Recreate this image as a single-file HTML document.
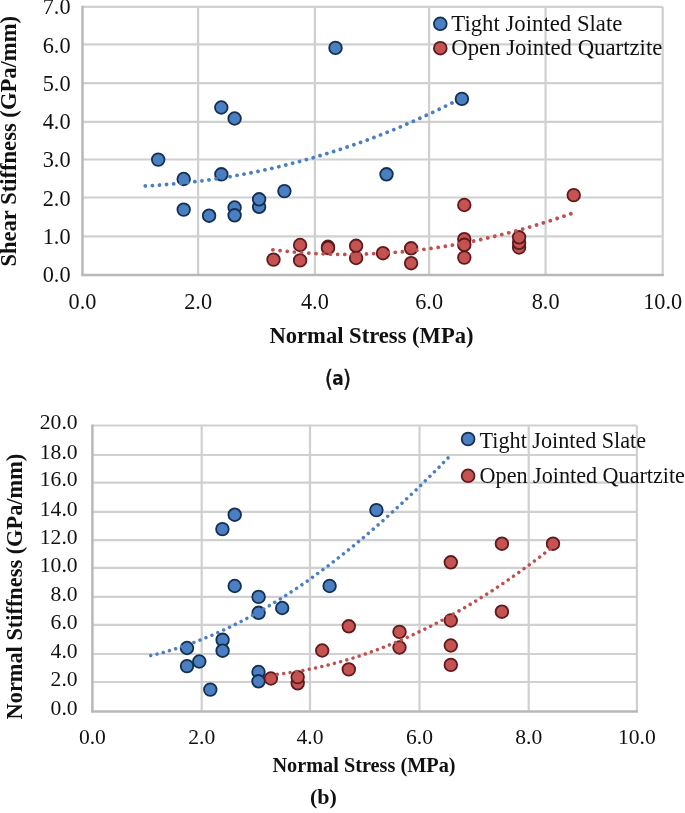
<!DOCTYPE html>
<html><head><meta charset="utf-8"><title>Stiffness vs Normal Stress</title>
<style>html,body{margin:0;padding:0;background:#fff;}svg{display:block;filter:blur(0.45px);}</style>
</head><body>
<svg width="685" height="813" viewBox="0 0 685 813">
<rect width="685" height="813" fill="#fff"/>
<line x1="198.1" y1="6.9" x2="198.1" y2="274.8" stroke="#d0d0d0" stroke-width="2.2"/>
<line x1="314.9" y1="6.9" x2="314.9" y2="274.8" stroke="#d0d0d0" stroke-width="2.2"/>
<line x1="429.1" y1="6.9" x2="429.1" y2="274.8" stroke="#d0d0d0" stroke-width="2.2"/>
<line x1="545.6" y1="6.9" x2="545.6" y2="274.8" stroke="#d0d0d0" stroke-width="2.2"/>
<line x1="662.7" y1="6.9" x2="662.7" y2="274.8" stroke="#d0d0d0" stroke-width="2.2"/>
<line x1="82.5" y1="236.3" x2="662.7" y2="236.3" stroke="#d0d0d0" stroke-width="2.2"/>
<line x1="82.5" y1="197.5" x2="662.7" y2="197.5" stroke="#d0d0d0" stroke-width="2.2"/>
<line x1="82.5" y1="159.5" x2="662.7" y2="159.5" stroke="#d0d0d0" stroke-width="2.2"/>
<line x1="82.5" y1="121.9" x2="662.7" y2="121.9" stroke="#d0d0d0" stroke-width="2.2"/>
<line x1="82.5" y1="83.2" x2="662.7" y2="83.2" stroke="#d0d0d0" stroke-width="2.2"/>
<line x1="82.5" y1="44.3" x2="662.7" y2="44.3" stroke="#d0d0d0" stroke-width="2.2"/>
<line x1="82.5" y1="6.9" x2="662.7" y2="6.9" stroke="#d0d0d0" stroke-width="2.2"/>
<line x1="82.5" y1="5.8" x2="82.5" y2="275.9" stroke="#b6b8ba" stroke-width="2.5"/>
<line x1="81.4" y1="275.0" x2="663.8" y2="275.0" stroke="#b6b8ba" stroke-width="2.5"/>
<circle cx="158.2" cy="159.6" r="6.3" fill="#4a7fc1" stroke="#132f52" stroke-width="1.8"/>
<circle cx="183.7" cy="179.0" r="6.3" fill="#4a7fc1" stroke="#132f52" stroke-width="1.8"/>
<circle cx="183.7" cy="209.6" r="6.3" fill="#4a7fc1" stroke="#132f52" stroke-width="1.8"/>
<circle cx="209.1" cy="215.7" r="6.3" fill="#4a7fc1" stroke="#132f52" stroke-width="1.8"/>
<circle cx="221.3" cy="107.5" r="6.3" fill="#4a7fc1" stroke="#132f52" stroke-width="1.8"/>
<circle cx="221.35" cy="174.3" r="6.3" fill="#4a7fc1" stroke="#132f52" stroke-width="1.8"/>
<circle cx="234.6" cy="118.5" r="6.3" fill="#4a7fc1" stroke="#132f52" stroke-width="1.8"/>
<circle cx="234.6" cy="207.5" r="6.3" fill="#4a7fc1" stroke="#132f52" stroke-width="1.8"/>
<circle cx="234.6" cy="215.3" r="6.3" fill="#4a7fc1" stroke="#132f52" stroke-width="1.8"/>
<circle cx="259.1" cy="206.8" r="6.3" fill="#4a7fc1" stroke="#132f52" stroke-width="1.8"/>
<circle cx="259.1" cy="199.3" r="6.3" fill="#4a7fc1" stroke="#132f52" stroke-width="1.8"/>
<circle cx="284.4" cy="191.1" r="6.3" fill="#4a7fc1" stroke="#132f52" stroke-width="1.8"/>
<circle cx="335.5" cy="47.9" r="6.3" fill="#4a7fc1" stroke="#132f52" stroke-width="1.8"/>
<circle cx="386.5" cy="174.3" r="6.3" fill="#4a7fc1" stroke="#132f52" stroke-width="1.8"/>
<circle cx="461.9" cy="98.9" r="6.3" fill="#4a7fc1" stroke="#132f52" stroke-width="1.8"/>
<circle cx="273.5" cy="259.6" r="6.3" fill="#c55352" stroke="#5e1a1d" stroke-width="1.8"/>
<circle cx="300.1" cy="245.0" r="6.3" fill="#c55352" stroke="#5e1a1d" stroke-width="1.8"/>
<circle cx="300.1" cy="260.4" r="6.3" fill="#c55352" stroke="#5e1a1d" stroke-width="1.8"/>
<circle cx="328.0" cy="246.8" r="6.3" fill="#c55352" stroke="#5e1a1d" stroke-width="1.8"/>
<circle cx="328.0" cy="248.0" r="6.3" fill="#c55352" stroke="#5e1a1d" stroke-width="1.8"/>
<circle cx="356.1" cy="245.8" r="6.3" fill="#c55352" stroke="#5e1a1d" stroke-width="1.8"/>
<circle cx="356.1" cy="258.0" r="6.3" fill="#c55352" stroke="#5e1a1d" stroke-width="1.8"/>
<circle cx="383.0" cy="253.2" r="6.3" fill="#c55352" stroke="#5e1a1d" stroke-width="1.8"/>
<circle cx="411.1" cy="248.3" r="6.3" fill="#c55352" stroke="#5e1a1d" stroke-width="1.8"/>
<circle cx="411.1" cy="263.2" r="6.3" fill="#c55352" stroke="#5e1a1d" stroke-width="1.8"/>
<circle cx="464.3" cy="205.0" r="6.3" fill="#c55352" stroke="#5e1a1d" stroke-width="1.8"/>
<circle cx="464.3" cy="239.2" r="6.3" fill="#c55352" stroke="#5e1a1d" stroke-width="1.8"/>
<circle cx="464.3" cy="244.8" r="6.3" fill="#c55352" stroke="#5e1a1d" stroke-width="1.8"/>
<circle cx="464.3" cy="257.6" r="6.3" fill="#c55352" stroke="#5e1a1d" stroke-width="1.8"/>
<circle cx="519.1" cy="247.5" r="6.3" fill="#c55352" stroke="#5e1a1d" stroke-width="1.8"/>
<circle cx="519.1" cy="242.8" r="6.3" fill="#c55352" stroke="#5e1a1d" stroke-width="1.8"/>
<circle cx="519.1" cy="237.3" r="6.3" fill="#c55352" stroke="#5e1a1d" stroke-width="1.8"/>
<circle cx="573.7" cy="195.1" r="6.3" fill="#c55352" stroke="#5e1a1d" stroke-width="1.8"/>
<path d="M145.3,186.0 L150.6,185.7 L155.9,185.3 L161.1,184.9 L166.4,184.5 L171.7,184.1 L177.0,183.6 L182.3,183.1 L187.6,182.5 L192.8,181.9 L198.1,181.3 L203.4,180.6 L208.7,179.9 L214.0,179.1 L219.3,178.3 L224.5,177.5 L229.8,176.6 L235.1,175.7 L240.4,174.8 L245.7,173.8 L251.0,172.8 L256.2,171.7 L261.5,170.6 L266.8,169.5 L272.1,168.3 L277.4,167.1 L282.7,165.8 L287.9,164.5 L293.2,163.1 L298.5,161.8 L303.8,160.3 L309.1,158.9 L314.4,157.4 L319.6,155.8 L324.9,154.2 L330.2,152.6 L335.5,150.9 L340.8,149.2 L346.1,147.4 L351.3,145.6 L356.6,143.8 L361.9,141.9 L367.2,140.0 L372.5,138.0 L377.8,136.0 L383.0,133.9 L388.3,131.8 L393.6,129.7 L398.9,127.5 L404.2,125.2 L409.5,122.9 L414.7,120.6 L420.0,118.2 L425.3,115.8 L430.6,113.4 L435.9,110.9 L441.2,108.3 L446.4,105.7 L451.7,103.1 L457.0,100.4" fill="none" stroke="#4a7fc1" stroke-width="3.8" stroke-linecap="round" stroke-dasharray="0.01 7.1"/>
<path d="M272.9,249.8 L278.0,250.4 L283.0,251.0 L288.1,251.5 L293.1,252.0 L298.2,252.4 L303.3,252.8 L308.3,253.1 L313.4,253.5 L318.4,253.7 L323.5,253.9 L328.6,254.1 L333.6,254.2 L338.7,254.3 L343.8,254.4 L348.8,254.4 L353.9,254.3 L358.9,254.2 L364.0,254.1 L369.1,253.9 L374.1,253.7 L379.2,253.5 L384.2,253.2 L389.3,252.8 L394.4,252.4 L399.4,252.0 L404.5,251.6 L409.5,251.0 L414.6,250.5 L419.7,249.9 L424.7,249.3 L429.8,248.6 L434.9,247.9 L439.9,247.1 L445.0,246.3 L450.0,245.5 L455.1,244.6 L460.2,243.7 L465.2,242.7 L470.3,241.7 L475.3,240.7 L480.4,239.6 L485.5,238.5 L490.5,237.3 L495.6,236.1 L500.6,234.9 L505.7,233.6 L510.8,232.3 L515.8,231.0 L520.9,229.6 L526.0,228.1 L531.0,226.7 L536.1,225.1 L541.1,223.6 L546.2,222.0 L551.3,220.4 L556.3,218.7 L561.4,217.0 L566.4,215.3 L571.5,213.5" fill="none" stroke="#c0504d" stroke-width="3.8" stroke-linecap="round" stroke-dasharray="0.01 7.2"/>
<line x1="201.7" y1="425.5" x2="201.7" y2="711.2" stroke="#d0d0d0" stroke-width="2.2"/>
<line x1="310.0" y1="425.5" x2="310.0" y2="711.2" stroke="#d0d0d0" stroke-width="2.2"/>
<line x1="419.5" y1="425.5" x2="419.5" y2="711.2" stroke="#d0d0d0" stroke-width="2.2"/>
<line x1="528.7" y1="425.5" x2="528.7" y2="711.2" stroke="#d0d0d0" stroke-width="2.2"/>
<line x1="636.9" y1="425.5" x2="636.9" y2="711.2" stroke="#d0d0d0" stroke-width="2.2"/>
<line x1="92.4" y1="682.0" x2="636.9" y2="682.0" stroke="#d0d0d0" stroke-width="2.2"/>
<line x1="92.4" y1="654.0" x2="636.9" y2="654.0" stroke="#d0d0d0" stroke-width="2.2"/>
<line x1="92.4" y1="624.8" x2="636.9" y2="624.8" stroke="#d0d0d0" stroke-width="2.2"/>
<line x1="92.4" y1="596.8" x2="636.9" y2="596.8" stroke="#d0d0d0" stroke-width="2.2"/>
<line x1="92.4" y1="567.8" x2="636.9" y2="567.8" stroke="#d0d0d0" stroke-width="2.2"/>
<line x1="92.4" y1="540.1" x2="636.9" y2="540.1" stroke="#d0d0d0" stroke-width="2.2"/>
<line x1="92.4" y1="511.9" x2="636.9" y2="511.9" stroke="#d0d0d0" stroke-width="2.2"/>
<line x1="92.4" y1="482.7" x2="636.9" y2="482.7" stroke="#d0d0d0" stroke-width="2.2"/>
<line x1="92.4" y1="455.0" x2="636.9" y2="455.0" stroke="#d0d0d0" stroke-width="2.2"/>
<line x1="92.4" y1="425.5" x2="636.9" y2="425.5" stroke="#d0d0d0" stroke-width="2.2"/>
<line x1="92.4" y1="424.4" x2="92.4" y2="712.3" stroke="#b6b8ba" stroke-width="2.5"/>
<line x1="91.3" y1="711.4" x2="638.0" y2="711.4" stroke="#b6b8ba" stroke-width="2.5"/>
<circle cx="234.7" cy="514.7" r="6.3" fill="#4a7fc1" stroke="#132f52" stroke-width="1.8"/>
<circle cx="222.4" cy="529.1" r="6.3" fill="#4a7fc1" stroke="#132f52" stroke-width="1.8"/>
<circle cx="234.7" cy="586.0" r="6.3" fill="#4a7fc1" stroke="#132f52" stroke-width="1.8"/>
<circle cx="258.6" cy="596.9" r="6.3" fill="#4a7fc1" stroke="#132f52" stroke-width="1.8"/>
<circle cx="258.6" cy="612.8" r="6.3" fill="#4a7fc1" stroke="#132f52" stroke-width="1.8"/>
<circle cx="282.2" cy="608.0" r="6.3" fill="#4a7fc1" stroke="#132f52" stroke-width="1.8"/>
<circle cx="222.6" cy="639.8" r="6.3" fill="#4a7fc1" stroke="#132f52" stroke-width="1.8"/>
<circle cx="222.6" cy="650.7" r="6.3" fill="#4a7fc1" stroke="#132f52" stroke-width="1.8"/>
<circle cx="187.0" cy="648.0" r="6.3" fill="#4a7fc1" stroke="#132f52" stroke-width="1.8"/>
<circle cx="187.0" cy="666.1" r="6.3" fill="#4a7fc1" stroke="#132f52" stroke-width="1.8"/>
<circle cx="199.3" cy="661.5" r="6.3" fill="#4a7fc1" stroke="#132f52" stroke-width="1.8"/>
<circle cx="258.5" cy="672.0" r="6.3" fill="#4a7fc1" stroke="#132f52" stroke-width="1.8"/>
<circle cx="258.5" cy="681.3" r="6.3" fill="#4a7fc1" stroke="#132f52" stroke-width="1.8"/>
<circle cx="210.3" cy="689.6" r="6.3" fill="#4a7fc1" stroke="#132f52" stroke-width="1.8"/>
<circle cx="329.6" cy="586.0" r="6.3" fill="#4a7fc1" stroke="#132f52" stroke-width="1.8"/>
<circle cx="376.4" cy="510.1" r="6.3" fill="#4a7fc1" stroke="#132f52" stroke-width="1.8"/>
<circle cx="270.9" cy="678.5" r="6.3" fill="#c55352" stroke="#5e1a1d" stroke-width="1.8"/>
<circle cx="297.7" cy="683.3" r="6.3" fill="#c55352" stroke="#5e1a1d" stroke-width="1.8"/>
<circle cx="297.7" cy="677.1" r="6.3" fill="#c55352" stroke="#5e1a1d" stroke-width="1.8"/>
<circle cx="322.2" cy="650.5" r="6.3" fill="#c55352" stroke="#5e1a1d" stroke-width="1.8"/>
<circle cx="348.8" cy="669.4" r="6.3" fill="#c55352" stroke="#5e1a1d" stroke-width="1.8"/>
<circle cx="348.8" cy="626.3" r="6.3" fill="#c55352" stroke="#5e1a1d" stroke-width="1.8"/>
<circle cx="399.5" cy="631.9" r="6.3" fill="#c55352" stroke="#5e1a1d" stroke-width="1.8"/>
<circle cx="399.5" cy="647.5" r="6.3" fill="#c55352" stroke="#5e1a1d" stroke-width="1.8"/>
<circle cx="450.8" cy="562.3" r="6.3" fill="#c55352" stroke="#5e1a1d" stroke-width="1.8"/>
<circle cx="450.8" cy="620.5" r="6.3" fill="#c55352" stroke="#5e1a1d" stroke-width="1.8"/>
<circle cx="450.8" cy="645.5" r="6.3" fill="#c55352" stroke="#5e1a1d" stroke-width="1.8"/>
<circle cx="450.8" cy="664.9" r="6.3" fill="#c55352" stroke="#5e1a1d" stroke-width="1.8"/>
<circle cx="501.9" cy="543.7" r="6.3" fill="#c55352" stroke="#5e1a1d" stroke-width="1.8"/>
<circle cx="501.9" cy="611.7" r="6.3" fill="#c55352" stroke="#5e1a1d" stroke-width="1.8"/>
<circle cx="553.0" cy="543.7" r="6.3" fill="#c55352" stroke="#5e1a1d" stroke-width="1.8"/>
<path d="M150.7,655.6 L155.8,654.4 L160.8,653.1 L165.9,651.7 L171.0,650.2 L176.1,648.6 L181.1,647.0 L186.2,645.3 L191.3,643.5 L196.4,641.6 L201.4,639.6 L206.5,637.5 L211.6,635.4 L216.6,633.2 L221.7,630.9 L226.8,628.5 L231.9,626.1 L236.9,623.6 L242.0,621.0 L247.1,618.3 L252.2,615.5 L257.2,612.7 L262.3,609.8 L267.4,606.9 L272.4,603.8 L277.5,600.7 L282.6,597.5 L287.7,594.2 L292.7,590.9 L297.8,587.5 L302.9,584.0 L308.0,580.5 L313.0,576.9 L318.1,573.2 L323.2,569.5 L328.3,565.7 L333.3,561.8 L338.4,557.9 L343.5,553.9 L348.5,549.8 L353.6,545.7 L358.7,541.5 L363.8,537.2 L368.8,532.9 L373.9,528.5 L379.0,524.1 L384.1,519.6 L389.1,515.0 L394.2,510.4 L399.3,505.7 L404.3,501.0 L409.4,496.2 L414.5,491.4 L419.6,486.5 L424.6,481.5 L429.7,476.5 L434.8,471.4 L439.9,466.3 L444.9,461.1 L450.0,455.9" fill="none" stroke="#4a7fc1" stroke-width="3.5" stroke-linecap="round" stroke-dasharray="0.01 6.45"/>
<path d="M270.9,675.0 L275.7,674.5 L280.4,674.0 L285.2,673.3 L290.0,672.6 L294.7,671.9 L299.5,671.1 L304.3,670.2 L309.0,669.3 L313.8,668.3 L318.5,667.3 L323.3,666.2 L328.1,665.0 L332.8,663.8 L337.6,662.5 L342.4,661.2 L347.1,659.8 L351.9,658.4 L356.7,656.9 L361.4,655.3 L366.2,653.7 L371.0,652.0 L375.7,650.3 L380.5,648.5 L385.2,646.6 L390.0,644.7 L394.8,642.8 L399.5,640.8 L404.3,638.7 L409.1,636.6 L413.8,634.4 L418.6,632.1 L423.4,629.8 L428.1,627.5 L432.9,625.1 L437.7,622.6 L442.4,620.1 L447.2,617.5 L451.9,614.9 L456.7,612.2 L461.5,609.5 L466.2,606.7 L471.0,603.9 L475.8,601.0 L480.5,598.0 L485.3,595.0 L490.1,592.0 L494.8,588.9 L499.6,585.7 L504.4,582.5 L509.1,579.2 L513.9,575.9 L518.6,572.6 L523.4,569.1 L528.2,565.7 L532.9,562.1 L537.7,558.6 L542.5,554.9 L547.2,551.2 L552.0,547.5" fill="none" stroke="#c0504d" stroke-width="3.5" stroke-linecap="round" stroke-dasharray="0.01 6.45"/>
<text x="70.6" y="282.2" text-anchor="end" font-family="'Liberation Serif','Times New Roman',serif" font-size="22.3" fill="#111">0.0</text>
<text x="70.6" y="243.5" text-anchor="end" font-family="'Liberation Serif','Times New Roman',serif" font-size="22.3" fill="#111">1.0</text>
<text x="70.6" y="205.5" text-anchor="end" font-family="'Liberation Serif','Times New Roman',serif" font-size="22.3" fill="#111">2.0</text>
<text x="70.6" y="166.7" text-anchor="end" font-family="'Liberation Serif','Times New Roman',serif" font-size="22.3" fill="#111">3.0</text>
<text x="70.6" y="128.7" text-anchor="end" font-family="'Liberation Serif','Times New Roman',serif" font-size="22.3" fill="#111">4.0</text>
<text x="70.6" y="90.5" text-anchor="end" font-family="'Liberation Serif','Times New Roman',serif" font-size="22.3" fill="#111">5.0</text>
<text x="70.6" y="52.6" text-anchor="end" font-family="'Liberation Serif','Times New Roman',serif" font-size="22.3" fill="#111">6.0</text>
<text x="70.6" y="13.6" text-anchor="end" font-family="'Liberation Serif','Times New Roman',serif" font-size="22.3" fill="#111">7.0</text>
<text x="82.5" y="308.9" text-anchor="middle" font-family="'Liberation Serif','Times New Roman',serif" font-size="22.3" fill="#111">0.0</text>
<text x="198.1" y="308.9" text-anchor="middle" font-family="'Liberation Serif','Times New Roman',serif" font-size="22.3" fill="#111">2.0</text>
<text x="314.9" y="308.9" text-anchor="middle" font-family="'Liberation Serif','Times New Roman',serif" font-size="22.3" fill="#111">4.0</text>
<text x="429.1" y="308.9" text-anchor="middle" font-family="'Liberation Serif','Times New Roman',serif" font-size="22.3" fill="#111">6.0</text>
<text x="545.6" y="308.9" text-anchor="middle" font-family="'Liberation Serif','Times New Roman',serif" font-size="22.3" fill="#111">8.0</text>
<text x="662.7" y="308.9" text-anchor="middle" font-family="'Liberation Serif','Times New Roman',serif" font-size="22.3" fill="#111">10.0</text>
<text x="77.6" y="714.9" text-anchor="end" font-family="'Liberation Serif','Times New Roman',serif" font-size="21.6" fill="#111">0.0</text>
<text x="77.6" y="685.7" text-anchor="end" font-family="'Liberation Serif','Times New Roman',serif" font-size="21.6" fill="#111">2.0</text>
<text x="77.6" y="657.7" text-anchor="end" font-family="'Liberation Serif','Times New Roman',serif" font-size="21.6" fill="#111">4.0</text>
<text x="77.6" y="628.5" text-anchor="end" font-family="'Liberation Serif','Times New Roman',serif" font-size="21.6" fill="#111">6.0</text>
<text x="77.6" y="600.5" text-anchor="end" font-family="'Liberation Serif','Times New Roman',serif" font-size="21.6" fill="#111">8.0</text>
<text x="77.6" y="571.5" text-anchor="end" font-family="'Liberation Serif','Times New Roman',serif" font-size="21.6" fill="#111">10.0</text>
<text x="77.6" y="543.8" text-anchor="end" font-family="'Liberation Serif','Times New Roman',serif" font-size="21.6" fill="#111">12.0</text>
<text x="77.6" y="515.6" text-anchor="end" font-family="'Liberation Serif','Times New Roman',serif" font-size="21.6" fill="#111">14.0</text>
<text x="77.6" y="486.4" text-anchor="end" font-family="'Liberation Serif','Times New Roman',serif" font-size="21.6" fill="#111">16.0</text>
<text x="77.6" y="458.7" text-anchor="end" font-family="'Liberation Serif','Times New Roman',serif" font-size="21.6" fill="#111">18.0</text>
<text x="77.6" y="429.2" text-anchor="end" font-family="'Liberation Serif','Times New Roman',serif" font-size="21.6" fill="#111">20.0</text>
<text x="92.4" y="744.4" text-anchor="middle" font-family="'Liberation Serif','Times New Roman',serif" font-size="21.6" fill="#111">0.0</text>
<text x="201.7" y="744.4" text-anchor="middle" font-family="'Liberation Serif','Times New Roman',serif" font-size="21.6" fill="#111">2.0</text>
<text x="310.0" y="744.4" text-anchor="middle" font-family="'Liberation Serif','Times New Roman',serif" font-size="21.6" fill="#111">4.0</text>
<text x="419.5" y="744.4" text-anchor="middle" font-family="'Liberation Serif','Times New Roman',serif" font-size="21.6" fill="#111">6.0</text>
<text x="528.7" y="744.4" text-anchor="middle" font-family="'Liberation Serif','Times New Roman',serif" font-size="21.6" fill="#111">8.0</text>
<text x="636.9" y="744.4" text-anchor="middle" font-family="'Liberation Serif','Times New Roman',serif" font-size="21.6" fill="#111">10.0</text>
<text x="371.5" y="343.3" text-anchor="middle" font-family="'Liberation Serif','Times New Roman',serif" font-weight="bold" font-size="22.6" fill="#111">Normal Stress (MPa)</text>
<text x="364" y="772" text-anchor="middle" font-family="'Liberation Serif','Times New Roman',serif" font-weight="bold" font-size="20.3" fill="#111">Normal Stress (MPa)</text>
<text transform="translate(16.1,141.3) rotate(-90)" x="0" y="0" text-anchor="middle" font-family="'Liberation Serif','Times New Roman',serif" font-weight="bold" font-size="22.6" fill="#111">Shear Stiffness (GPa/mm)</text>
<text transform="translate(22,586.6) rotate(-90)" x="0" y="0" text-anchor="middle" font-family="'Liberation Serif','Times New Roman',serif" font-weight="bold" font-size="22.35" fill="#111">Normal Stiffness (GPa/mm)</text>
<text x="325.0" y="387.3" font-family="'DejaVu Sans',sans-serif" font-stretch="condensed" font-size="22.6" fill="#111"><tspan stroke="#111" stroke-width="0.5">(</tspan><tspan font-weight="bold" font-size="19" dx="-0.8" dy="-2.2">a</tspan><tspan stroke="#111" stroke-width="0.5" dx="-0.6" dy="2.2">)</tspan></text>
<text x="323.5" y="804" text-anchor="middle" font-family="'Liberation Serif','Times New Roman',serif" font-weight="bold" font-size="22" fill="#111">(b)</text>
<circle cx="440.3" cy="23.8" r="6.4" fill="#4a7fc1" stroke="#132f52" stroke-width="1.8"/>
<circle cx="440.3" cy="48.2" r="6.4" fill="#c55352" stroke="#5e1a1d" stroke-width="1.8"/>
<text x="451.3" y="30.9" font-family="'Liberation Serif','Times New Roman',serif" font-size="22.75" fill="#111">Tight Jointed Slate</text>
<text x="451.3" y="54.9" font-family="'Liberation Serif','Times New Roman',serif" font-size="22.75" fill="#111">Open Jointed Quartzite</text>
<circle cx="468.1" cy="439.0" r="6.4" fill="#4a7fc1" stroke="#132f52" stroke-width="1.8"/>
<circle cx="468.1" cy="475.8" r="6.4" fill="#c55352" stroke="#5e1a1d" stroke-width="1.8"/>
<text x="479.6" y="447.8" font-family="'Liberation Serif','Times New Roman',serif" font-size="22.15" fill="#111">Tight Jointed Slate</text>
<text x="479.6" y="482.5" font-family="'Liberation Serif','Times New Roman',serif" font-size="22.15" fill="#111">Open Jointed Quartzite</text>
</svg>
</body></html>
